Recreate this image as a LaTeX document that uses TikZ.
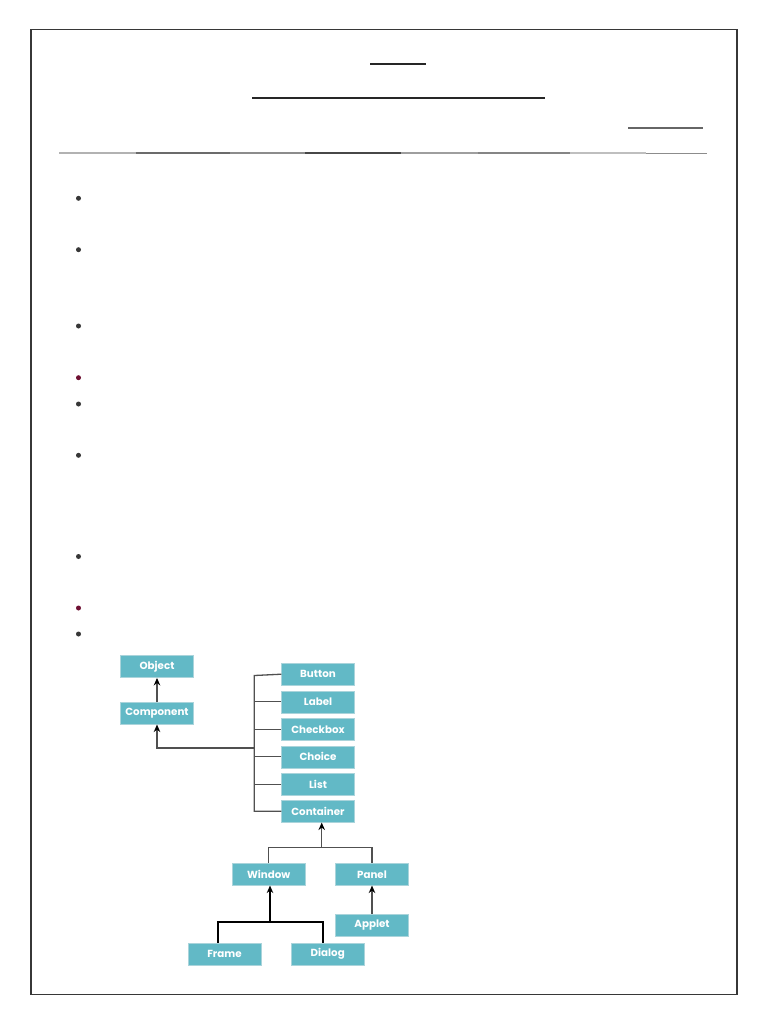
\documentclass[tikz,border=0pt]{standalone}
\usepackage{fontspec}
\setmainfont{Poppins}
\usetikzlibrary{arrows.meta,calc}
\definecolor{boxteal}{RGB}{98,185,198}
\definecolor{boxedge}{RGB}{170,212,219}
\definecolor{frameg}{RGB}{55,55,55}
\definecolor{linkg}{RGB}{80,80,80}
\definecolor{bulletg}{RGB}{55,55,55}
\definecolor{maroon}{RGB}{110,16,50}
\tikzset{
  cls/.style={rectangle, fill=boxteal, draw=boxedge, line width=0.5pt,
    minimum width=72.6pt, minimum height=22pt, inner sep=0pt,
    text=white, font=\fontsize{10.3}{12}\selectfont\bfseries},
  link/.style={draw=linkg, line width=1.3pt},
  blink/.style={draw=black, line width=1.8pt},
  arr/.style={-{Stealth[length=7.5pt,width=6.5pt,color=black]}},
  bul/.style={circle, fill=bulletg, inner sep=0pt, minimum size=5pt},
  mbul/.style={circle, fill=maroon, inner sep=0pt, minimum size=5pt},
}
\begin{document}
\begin{tikzpicture}[x=1pt,y=-1pt]
\useasboundingbox (0,0) rectangle (768,1024);
\fill[white] (0,0) rectangle (768,1024);
% page frame
\draw[frameg, line width=1.4pt] (31,29.5) rectangle (737,994.5);
% heading rules
\draw[black!85, line width=1.6pt] (370,64) -- (426,64);
\draw[black!85, line width=1.8pt] (252,98) -- (545,98);
\draw[black!60, line width=1.2pt] (628,128) -- (703,128);
% separator rule in varying greys
\draw[black!30, line width=1.3pt] (59,153) -- (135.5,153);
\draw[black!58, line width=1.3pt] (135.5,153) -- (230,153);
\draw[black!45, line width=1.3pt] (230,153) -- (305,153);
\draw[black!72, line width=1.3pt] (305,153) -- (400.5,153);
\draw[black!38, line width=1.3pt] (400.5,153) -- (478,153);
\draw[black!48, line width=1.3pt] (478,153) -- (570,153);
\draw[black!25, line width=1.3pt] (570,153) -- (646,153);
\draw[black!45, line width=1.3pt] (646,153.8) -- (707,153.8);
% bullets
\node[bul]  (b1) at (78.5,198.3) {};
\node[bul]  (b2) at (78.5,249.7) {};
\node[bul]  (b3) at (78.5,326) {};
\node[mbul] (b4) at (78.5,377.7) {};
\node[bul]  (b5) at (78.5,404) {};
\node[bul]  (b6) at (78.5,455.3) {};
\node[bul]  (b7) at (78.5,556.5) {};
\node[mbul] (b8) at (78.5,608) {};
\node[bul]  (b9) at (78.5,634) {};
% class boxes
\node[cls] (Object)    at (157,666.7) {Object};
\node[cls] (Component) at (157,713.3) {Component};
\node[cls] (Button)    at (318,674.2) {Button};
\node[cls] (Label)     at (318,701.8) {Label};
\node[cls] (Checkbox)  at (318,729.3) {Checkbox};
\node[cls] (Choice)    at (318,756.8) {Choice};
\node[cls] (List)      at (318,784.2) {List};
\node[cls] (Container) at (318,811.3) {Container};
\node[cls] (Window)    at (268.7,874.3) {Window};
\node[cls] (Panel)     at (372,874.3) {Panel};
\node[cls] (Applet)    at (372,925) {Applet};
\node[cls] (Frame)     at (224.5,954.2) {Frame};
\node[cls] (Dialog)    at (327.7,954.2) {Dialog};
% junction points
\coordinate (spT) at (254.3,675.5);
\coordinate (spB) at (254.3,811.3);
\coordinate (spJ) at (254.3,748);
\coordinate (cj)  at (321.7,847.3);
\coordinate (wj)  at (270,922.3);
% Object <- Component
\draw[link, arr] (Component.north) -- (Object.south);
% spine to components
\draw[link] (Button.west) -- (spT) -- (spB) -- (Container.west);
\draw[link] (Label.west) -- (Label.west -| spT);
\draw[link] (Checkbox.west) -- (Checkbox.west -| spT);
\draw[link] (Choice.west) -- (Choice.west -| spT);
\draw[link] (List.west) -- (List.west -| spT);
\draw[link, arr] (spJ) -| (Component.south);
% Container <- Window, Panel
\draw[link] (Window.north) |- (cj) -| (Panel.north);
\draw[link, arr] (cj) -- (cj |- Container.south);
% Panel <- Applet
\draw[link, arr] (Applet.north) -- (Panel.south);
% Window <- Frame, Dialog
\draw[blink] ([xshift=-6.5pt]Frame.north) |- (wj) -| ([xshift=-5pt]Dialog.north);
\draw[blink, arr] (wj) -- (wj |- Window.south);
\end{tikzpicture}
\end{document}
